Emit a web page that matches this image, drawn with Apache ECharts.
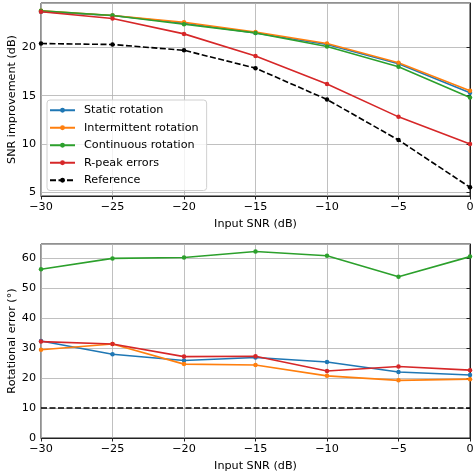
<!DOCTYPE html>
<html style="height: 100%">
<head>
<meta charset="utf-8">
<script src="https://cdn.jsdelivr.net/npm/echarts@6/dist/echarts.min.js"></script>
</head>
<body style="height: 100%; margin: 0; background: #fff">
<div id="container" style="width: 475px; height: 475px"></div>
<script type="text/javascript">
// x values (input SNR, dB)
var snrIn = [-30, -25, -20, -15, -10, -5, 0];

// top panel: SNR improvement (dB)
var impStatic       = [23.7, 23.3, 22.5, 21.5, 20.3, 18.3, 15.3];
var impIntermittent = [23.8, 23.3, 22.6, 21.6, 20.4, 18.4, 15.5];
var impContinuous   = [23.8, 23.3, 22.4, 21.5, 20.1, 18.0, 14.8];
var impRpeak        = [23.7, 23.0, 21.4, 19.1, 16.2, 12.8, 10.0];
var impReference    = [20.4, 20.3, 19.7, 17.85, 14.6, 10.4, 5.5];

// bottom panel: rotational error (deg)
var errStatic       = [32.3, 27.9, 25.8, 26.8, 25.3, 22.0, 21.0];
var errIntermittent = [29.4, 31.3, 24.6, 24.3, 20.7, 19.2, 19.6];
var errContinuous   = [56.2, 59.8, 60.1, 62.1, 60.7, 53.7, 60.4];
var errRpeak        = [32.1, 31.3, 27.1, 27.2, 22.3, 23.8, 22.6];
var errReference    = [10, 10, 10, 10, 10, 10, 10];

var names = ['Static rotation', 'Intermittent rotation', 'Continuous rotation', 'R-peak errors', 'Reference'];
var colors = ['#1f77b4', '#ff7f0e', '#2ca02c', '#d62728', '#000000'];

var font = 'DejaVu Sans';
var fs = 11.2;

function pairs(ys) {
    return snrIn.map(function (x, i) { return [x, ys[i]]; });
}

function mkSeries(name, ys, idx, color, dashed, showSym) {
    return {
        name: name,
        type: 'line',
        xAxisIndex: idx,
        yAxisIndex: idx,
        data: pairs(ys),
        symbol: 'circle',
        symbolSize: showSym ? 4.5 : 0,
        showSymbol: showSym,
        color: color,
        lineStyle: { width: 1.6, color: color, type: dashed ? [6, 2.5] : 'solid' },
        itemStyle: { color: color },
        animation: false,
        z: 3
    };
}

function xAx(idx) {
    return {
        type: 'value', gridIndex: idx, min: -30, max: 0, interval: 5,
        name: 'Input SNR (dB)', nameLocation: 'middle', nameGap: 23, nameMoveOverlap: false,
        nameTextStyle: { fontFamily: font, fontSize: fs, color: '#000' },
        axisLine: { show: true, onZero: false, lineStyle: { color: '#222', width: 1 } },
        axisTick: { show: true, length: 3.5, lineStyle: { color: '#222' } },
        axisLabel: {
            fontFamily: font, fontSize: fs, color: '#000', margin: 6,
            formatter: function (v) { return String(v).replace('-', '\u2212'); }
        },
        splitLine: { show: true, lineStyle: { color: '#b0b0b0', width: 0.8 } }
    };
}

function yAx(idx, name, extra) {
    var ax = {
        type: 'value', gridIndex: idx,
        name: name, nameLocation: 'middle', nameGap: 23, nameMoveOverlap: false,
        nameTextStyle: { fontFamily: font, fontSize: fs, color: '#000' },
        axisLine: { show: true, lineStyle: { color: '#222' } },
        axisTick: { show: true, length: 3.5, lineStyle: { color: '#222' } },
        axisLabel: { fontFamily: font, fontSize: fs, color: '#000', margin: 5, showMaxLabel: false },
        splitLine: { show: true, lineStyle: { color: '#b0b0b0', width: 0.8 } }
    };
    for (var k in extra) ax[k] = extra[k];
    return ax;
}

var dom = document.getElementById('container');
var myChart = echarts.init(dom, null, { renderer: 'canvas' });

var option = {
    backgroundColor: '#fff',
    animation: false,
    grid: [
        { left: 41, top: 3, width: 429, height: 193, outerBoundsMode: 'none', containLabel: false,
          show: true, borderColor: '#222', borderWidth: 1 },
        { left: 41, top: 244, width: 429, height: 194, outerBoundsMode: 'none', containLabel: false,
          show: true, borderColor: '#222', borderWidth: 1 }
    ],
    legend: {
        data: names,
        orient: 'vertical',
        left: 47, top: 100,
        itemWidth: 25, itemHeight: 6, itemGap: 5,
        padding: [4, 8, 4, 2],
        borderColor: '#d0d0d0', borderWidth: 1, borderRadius: 3,
        backgroundColor: 'rgba(255,255,255,0.8)',
        textStyle: { fontFamily: font, fontSize: fs, color: '#000', lineHeight: 12.5, padding: [0, 0, 0, 4] },
        z: 10
    },
    xAxis: [xAx(0), xAx(1)],
    yAxis: [
        yAx(0, 'SNR improvement (dB)', { min: 4.6, max: 24.6, splitNumber: 4 }),
        yAx(1, 'Rotational error (\u00b0)', { min: 0, max: 64.6, interval: 10 })
    ],
    series: [
        mkSeries(names[0], impStatic, 0, colors[0], false, true),
        mkSeries(names[1], impIntermittent, 0, colors[1], false, true),
        mkSeries(names[2], impContinuous, 0, colors[2], false, true),
        mkSeries(names[3], impRpeak, 0, colors[3], false, true),
        mkSeries(names[4], impReference, 0, colors[4], true, true),
        mkSeries(names[0], errStatic, 1, colors[0], false, true),
        mkSeries(names[1], errIntermittent, 1, colors[1], false, true),
        mkSeries(names[2], errContinuous, 1, colors[2], false, true),
        mkSeries(names[3], errRpeak, 1, colors[3], false, true),
        mkSeries(names[4], errReference, 1, colors[4], true, false)
    ]
};
option.yAxis[0].axisLabel.showMinLabel = false;

myChart.setOption(option);
window.onresize = function () { myChart.resize(); };
</script>
</body>
</html>
